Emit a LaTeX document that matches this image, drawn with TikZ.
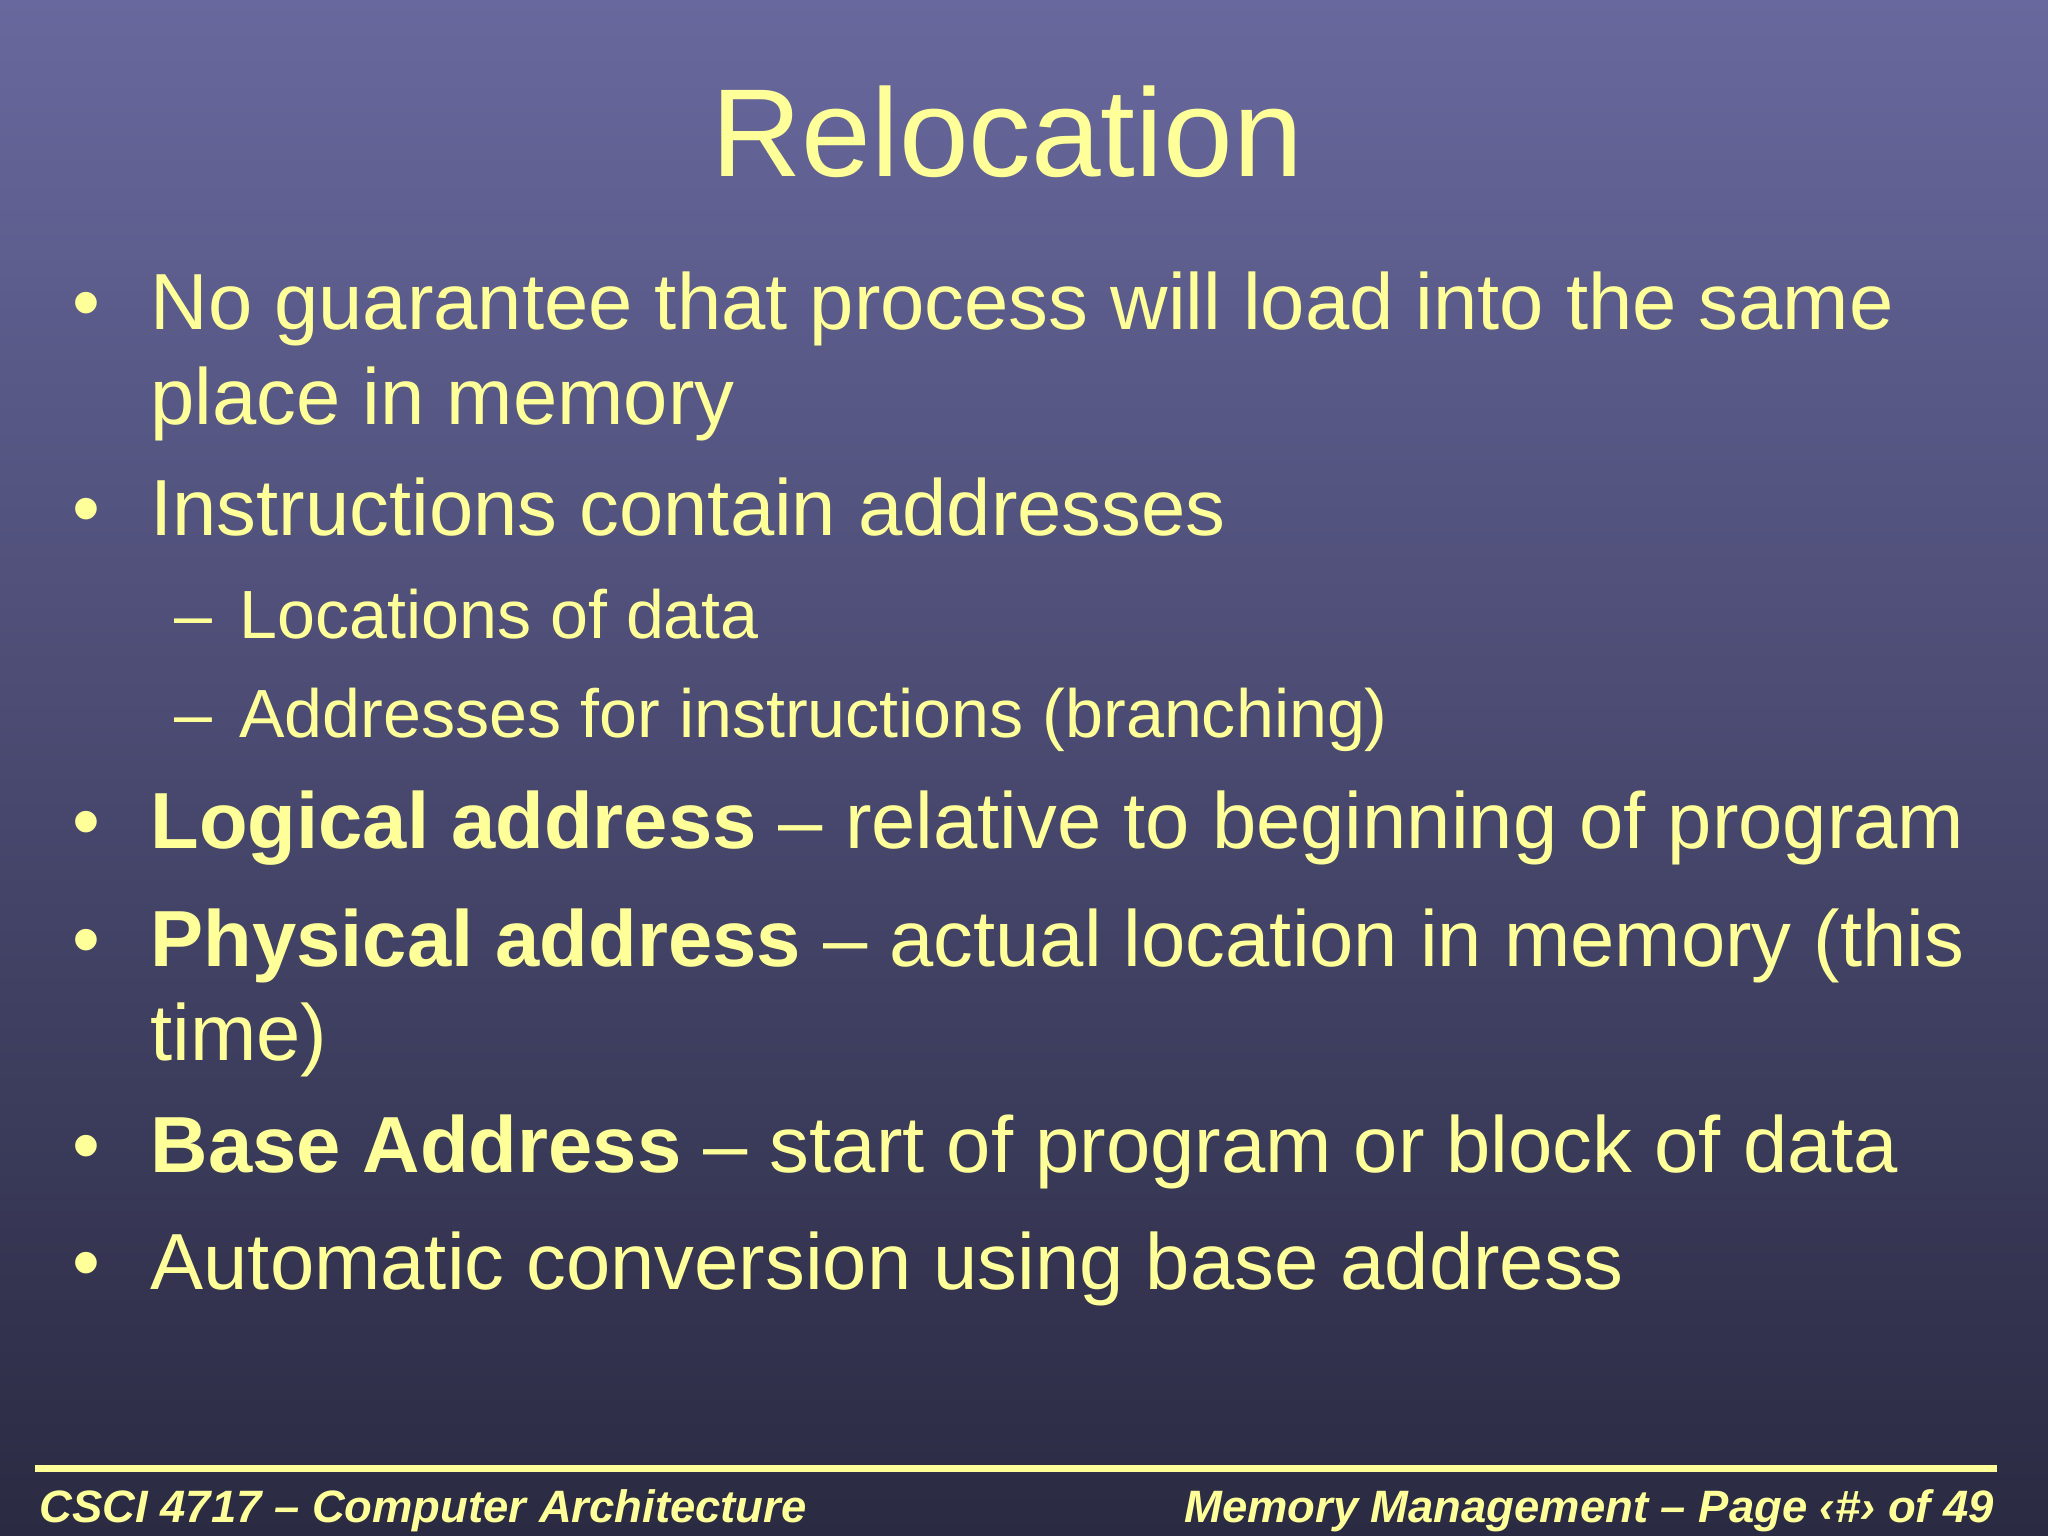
\documentclass[tikz,border=0pt]{standalone}
\usepackage{fontspec}
\setmainfont{Liberation Sans}
\definecolor{topc}{RGB}{104,104,158}
\definecolor{botc}{RGB}{42,42,66}
\definecolor{txt}{RGB}{255,255,153}
\begin{document}
\begin{tikzpicture}[x=0.6531pt,y=-0.6531pt,
  body/.style={anchor=base west,text=txt,font=\fontsize{39.8}{46}\selectfont,inner sep=0},
  sub/.style={anchor=base west,text=txt,font=\fontsize{34.1}{40}\selectfont,inner sep=0},
  foot/.style={text=txt,font=\fontsize{22.7}{27}\selectfont\bfseries\itshape,inner sep=0}]
\shade[top color=topc,bottom color=botc] (0,0) rectangle (1568,1176);
\useasboundingbox (0,0) rectangle (1568,1176);
\node[anchor=base,text=txt,font=\fontsize{62.6}{70}\selectfont,inner sep=0] (title) at (771,135) {Relocation};
\foreach \n/\y in {b1/252,b2/410,b3/650,b4/740,b5/898,b6/987}
  \node[body] (\n) at (55,\y) {•};
\node[body] (t1) at (115,252) {No guarantee that process will load into the same};
\node[body] (t1b) at (115,325) {place in memory};
\node[body] (t2) at (115,410) {Instructions contain addresses};
\node[sub] (d1) at (133,489) {–};
\node[sub] (s1) at (183,489) {Locations of data};
\node[sub] (d2) at (133,565) {–};
\node[sub] (s2) at (183,565) {Addresses for instructions (branching)};
\node[body] (t3) at (115,650) {\textbf{Logical address} – relative to beginning of program};
\node[body] (t4) at (115,740) {\textbf{Physical address} – actual location in memory (this};
\node[body] (t4b) at (115,812) {time)};
\node[body] (t5) at (115,898) {\textbf{Base Address} – start of program or block of data};
\node[body] (t6) at (115,987) {Automatic conversion using base address};
\draw[txt,line width=3.5pt] (27,1124) -- (1529,1124);
\node[foot,anchor=base west] (fl) at (30,1166) {CSCI 4717 – Computer Architecture};
\node[foot,anchor=base east] (fr) at (1527,1166) {Memory Management – Page ‹\#› of 49};
\end{tikzpicture}
\end{document}
